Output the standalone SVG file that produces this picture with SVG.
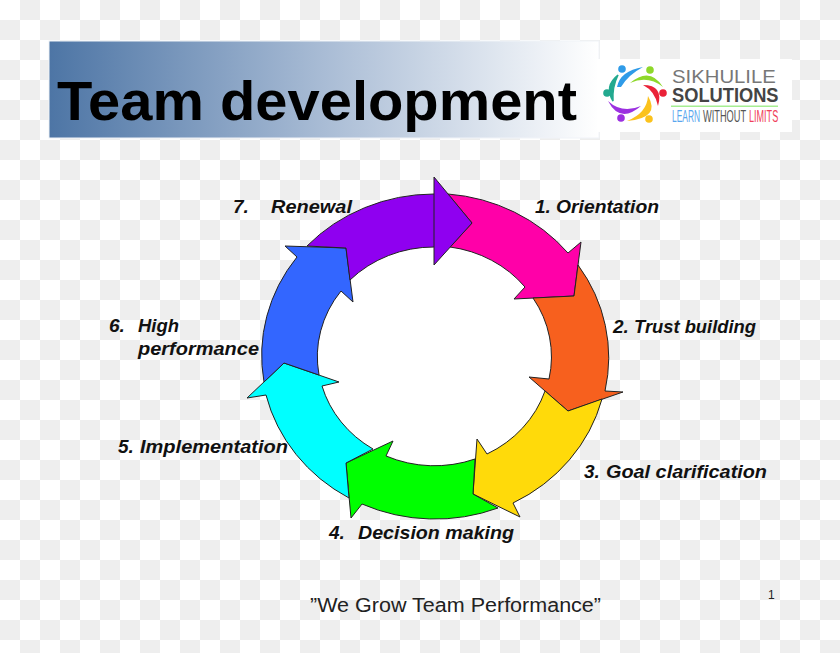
<svg xmlns="http://www.w3.org/2000/svg" width="840" height="653" viewBox="0 0 840 653">
<defs>
<pattern id="checker" width="40" height="40" patternUnits="userSpaceOnUse"><rect width="40" height="40" fill="#fff"/><rect x="20" width="20" height="20" fill="#eee"/><rect y="20" width="20" height="20" fill="#eee"/></pattern>
<linearGradient id="band" x1="0" x2="1" y1="0" y2="0"><stop offset="0" stop-color="#4d75a5"/><stop offset="0.5" stop-color="#a9bcd5"/><stop offset="1" stop-color="#ffffff"/></linearGradient>
</defs>
<style>
.arrow{stroke:#222;stroke-width:1;stroke-linejoin:miter}
.lab{font-family:"Liberation Sans",Arial,sans-serif;font-weight:700;font-style:italic;font-size:19px;fill:#111}
.logo{font-family:"Liberation Sans",Arial,sans-serif}
</style>
<rect width="840" height="653" fill="url(#checker)"/>
<g id="title">
<rect x="49" y="41" width="550" height="97" fill="url(#band)" stroke="#f0f3f8" stroke-width="1"/>
<text x="57" y="120" font-family="'Liberation Sans',Arial,sans-serif" font-weight="700" font-size="56" fill="#000" textLength="520" lengthAdjust="spacingAndGlyphs">Team development</text>
</g>
<g id="logo">
<rect x="597" y="59" width="195" height="73" fill="#fff"/>
<path d="M617 87 Q620 71 643 67 Q628 75 621 87 Z" fill="#2f9be8"/>
<path d="M630 83 Q650 66 663 87 Q648 75 630 83 Z" fill="#8ed82a"/>
<path d="M643 85 Q664 85 658 106 Q655 91 643 85 Z" fill="#ea2238"/>
<path d="M648 96 Q661 118 627 121 Q647 113 648 96 Z" fill="#fbc21c"/>
<path d="M608 101 Q620 124 641 106 Q622 114 608 101 Z" fill="#9b30e0"/>
<path d="M618 75 Q604 86 613 101 Q612 87 618 75 Z" fill="#23a98f" stroke="#23a98f" stroke-width="1.5"/>
<circle cx="622" cy="69" r="3.8" fill="#2f9be8"/><circle cx="650" cy="70" r="3.8" fill="#8ed82a"/><circle cx="663" cy="93" r="3.8" fill="#ea2238"/><circle cx="649" cy="119" r="3.8" fill="#fbc21c"/><circle cx="621" cy="118" r="3.8" fill="#9b30e0"/><circle cx="607" cy="93" r="3.8" fill="#23a98f"/>
<text class="logo" transform="translate(672 83) scale(1.07 1)" font-size="19" fill="#777">SIKHULILE</text>
<text class="logo" transform="translate(672 102) scale(.87 1)" font-size="21" font-weight="700" fill="#444">SOLUTIONS</text>
<rect x="671" y="105.5" width="107" height="1.5" fill="#a6ee92"/>
<text class="logo" transform="translate(672 122) scale(.51 1)" font-size="16.5" fill="#5aa6ee">LEARN</text>
<text class="logo" transform="translate(703 122) scale(.56 1)" font-size="16.5" fill="#555">WITHOUT</text>
<text class="logo" transform="translate(749 122) scale(.55 1)" font-size="16.5" fill="#f0405a">LIMITS</text>
</g>
<ellipse id="hub" cx="435" cy="356" rx="117" ry="109" fill="#fff"/>
<g id="connectors">
<path id="arrow1" class="arrow" fill="#ff00a8" d="M448 194 A174 163 0 0 1 568 253 L581 242 L574 296 L514 299 L525 287 A117 109 0 0 0 450 247 L472 223 Z"/>
<path id="arrow2" class="arrow" fill="#f7601e" d="M578 265 A174 163 0 0 1 605 391 L623 392 L568 411 L529 377 L549 379 A117 109 0 0 0 533 298 L574 296 Z"/>
<path id="arrow3" class="arrow" fill="#ffda0a" d="M602 399 A174 163 0 0 1 513 503 L520 517 L473 494 L477 439 L487 454 A117 109 0 0 0 545 391 L568 411 Z"/>
<path id="arrow4" class="arrow" fill="#00ff00" d="M498 508 A174 163 0 0 1 362 504 L351 518 L346 463 L393 441 L386 456 A117 109 0 0 0 475 459 L473 494 Z"/>
<path id="arrow5" class="arrow" fill="#00ffff" d="M349 498 A174 163 0 0 1 266 395 L247 398 L284 363 L339 382 L322 386 A117 109 0 0 0 373 449 L346 463 Z"/>
<path id="arrow6" class="arrow" fill="#3366ff" d="M264 382 A174 163 0 0 1 297 257 L285 246 L346 248 L353 302 L341 291 A117 109 0 0 0 319 375 L284 363 Z"/>
<path id="arrow7" class="arrow" fill="#8f00f0" d="M307 246 A174 163 0 0 1 434 194 L434 177 L472 223 L434 265 L434 247 A117 109 0 0 0 350 280 L346 248 Z"/>
<path class="arrow" fill="none" d="M434 194 V247"/>
</g>
<g id="labels">
<text class="lab" x="535" y="213">1.</text>
<text class="lab" x="556" y="213" textLength="103" lengthAdjust="spacingAndGlyphs">Orientation</text>
<text class="lab" x="613" y="333">2.</text>
<text class="lab" x="634" y="333" textLength="122" lengthAdjust="spacingAndGlyphs">Trust building</text>
<text class="lab" x="584" y="478">3.</text>
<text class="lab" x="606" y="478" textLength="161" lengthAdjust="spacingAndGlyphs">Goal clarification</text>
<text class="lab" x="329" y="539">4.</text>
<text class="lab" x="358" y="539" textLength="156" lengthAdjust="spacingAndGlyphs">Decision making</text>
<text class="lab" x="118" y="453">5.</text>
<text class="lab" x="140" y="453" textLength="148" lengthAdjust="spacingAndGlyphs">Implementation</text>
<text class="lab" x="109" y="332">6.</text>
<text class="lab" x="138" y="332" textLength="41" lengthAdjust="spacingAndGlyphs">High</text>
<text class="lab" x="138" y="355" textLength="121" lengthAdjust="spacingAndGlyphs">performance</text>
<text class="lab" x="233" y="213">7.</text>
<text class="lab" x="271" y="213" textLength="81" lengthAdjust="spacingAndGlyphs">Renewal</text>
</g>
<text id="footer" x="310" y="612" font-family="'Liberation Sans',Arial,sans-serif" font-size="20" fill="#222" textLength="291" lengthAdjust="spacingAndGlyphs">”We Grow Team Performance”</text>
<text id="page" x="768" y="599" font-family="'Liberation Sans',Arial,sans-serif" font-size="12" fill="#222">1</text>
</svg>
